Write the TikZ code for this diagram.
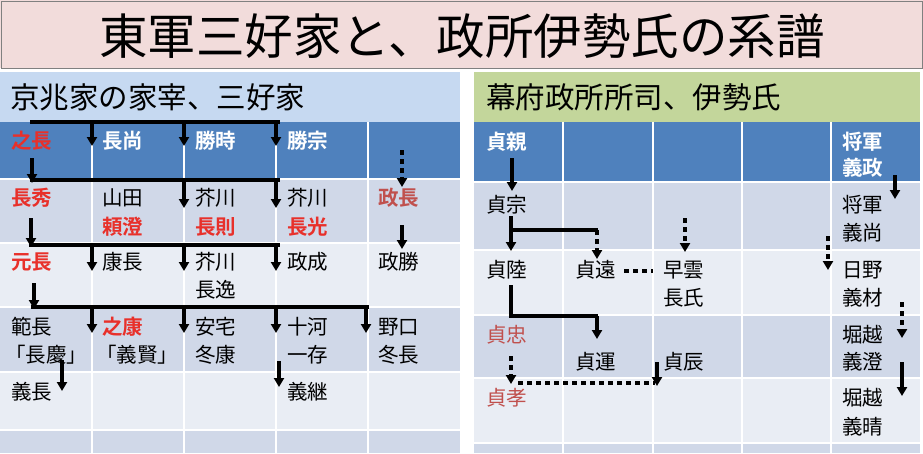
\documentclass[tikz,border=0pt]{standalone}
\usepackage{fontspec}
\setmainfont{Noto Sans CJK JP}[BoldFont={Noto Sans CJK JP Bold}]
\usetikzlibrary{arrows.meta}
\definecolor{hd}{HTML}{4F81BD}
\definecolor{rd}{HTML}{D0D8E8}
\definecolor{rl}{HTML}{E9EDF4}
\definecolor{red1}{HTML}{E8302A}
\definecolor{red2}{HTML}{C0504D}
\begin{document}
\begin{tikzpicture}[x=1pt,y=-1pt,
  t/.style={anchor=west,inner sep=0pt,font=\fontsize{20.5}{20.5}\selectfont},
  th/.style={t,text=white,font=\fontsize{20.5}{20.5}\selectfont\bfseries},
  tr/.style={t,text=red1,font=\fontsize{20.5}{20.5}\selectfont\bfseries},
  tb/.style={t,text=red2},
  ar/.style={line width=3.5pt,-{Triangle[length=9pt,width=10pt]}},
  ln/.style={line width=3.5pt},
  dt/.style={line width=4pt,dash pattern=on 4.5pt off 4.5pt},
  da/.style={dt,-{Triangle[length=9pt,width=10pt]}},
  grid/.style={white,line width=2pt}]
\useasboundingbox (0,0) rectangle (923,453);
% title
\fill[fill={rgb,255:red,242;green,220;blue,219}] (0,0) rectangle (923,68);
\draw[gray,line width=1pt] (1,1) rectangle (922,68);
\node (title) at (462,36) {\fontsize{48.5}{48.5}\selectfont 東軍三好家と、政所伊勢氏の系譜};
% left table
\fill[fill={rgb,255:red,198;green,217;blue,241}] (0,72) rectangle (460,122);
\node[anchor=west,inner sep=0pt] (lt) at (10,97) {\fontsize{29.5}{29.5}\selectfont 京兆家の家宰、三好家};
\fill[hd] (0,122) rectangle (460,179);
\fill[rd] (0,179) rectangle (460,243);
\fill[rl] (0,243) rectangle (460,307);
\fill[rd] (0,307) rectangle (460,372);
\fill[rl] (0,372) rectangle (460,430);
\fill[rd] (0,430) rectangle (460,453);
\foreach \y in {179,243,307,372,430} \draw[grid] (0,\y) -- (460,\y);
\foreach \x in {92,184,276,368} \draw[grid] (\x,122) -- (\x,453);
% right table
\fill[fill={rgb,255:red,195;green,214;blue,155}] (474,72) rectangle (920,122);
\node[anchor=west,inner sep=0pt] (rt) at (486,97) {\fontsize{29.5}{29.5}\selectfont 幕府政所所司、伊勢氏};
\fill[hd] (474,122) rectangle (920,182);
\fill[rd] (474,182) rectangle (920,250);
\fill[rl] (474,250) rectangle (920,315);
\fill[rd] (474,315) rectangle (920,378);
\fill[rl] (474,378) rectangle (920,443);
\fill[rd] (474,443) rectangle (920,453);
\foreach \y in {182,250,315,378,443} \draw[grid] (474,\y) -- (920,\y);
\foreach \x in {563,653,742,831} \draw[grid] (\x,122) -- (\x,453);
% left texts
\node[tr] (a1) at (11,141) {之長};
\node[th] (a2) at (102,141) {長尚};
\node[th] (a3) at (195,141) {勝時};
\node[th] (a4) at (287,141) {勝宗};
\node[tr] (b1) at (11,198) {長秀};
\node[t] (b2) at (102,198) {山田};
\node[tr] (b2b) at (102,227) {頼澄};
\node[t] (b3) at (195,198) {芥川};
\node[tr] (b3b) at (195,227) {長則};
\node[t] (b4) at (287,198) {芥川};
\node[tr] (b4b) at (287,227) {長光};
\node[tb,font=\fontsize{20.5}{20.5}\selectfont\bfseries] (b5) at (378,198) {政長};
\node[tr] (c1) at (11,262) {元長};
\node[t] (c2) at (102,262) {康長};
\node[t] (c3) at (195,262) {芥川};
\node[t] (c3b) at (195,290) {長逸};
\node[t] (c4) at (287,262) {政成};
\node[t] (c5) at (378,262) {政勝};
\node[t] (d1) at (11,327) {範長};
\node[t] (d1b) at (5,355) {「長慶」};
\node[tr] (d2) at (102,327) {之康};
\node[t] (d2b) at (96,355) {「義賢」};
\node[t] (d3) at (195,327) {安宅};
\node[t] (d3b) at (195,355) {冬康};
\node[t] (d4) at (287,327) {十河};
\node[t] (d4b) at (287,355) {一存};
\node[t] (d5) at (378,327) {野口};
\node[t] (d5b) at (378,355) {冬長};
\node[t] (e1) at (11,392) {義長};
\node[t] (e4) at (287,392) {義継};
% left arrows
\draw[ln] (30,122) -- (280,122);
\foreach \x in {92,184,276} \draw[ar] (\x,122) -- (\x,146);
\draw[ln] (32,158) -- (32,180) -- (280,180);
\draw[ar] (32,158) -- (32,183);
\foreach \x in {184,276} \draw[ar] (\x,180) -- (\x,208);
\draw[da] (402,150) -- (402,187);
\draw[ln] (31,218) -- (31,245) -- (280,245);
\draw[ar] (31,218) -- (31,247);
\foreach \x in {92,184,276} \draw[ar] (\x,245) -- (\x,271);
\draw[ar] (402,225) -- (402,249);
\draw[ln] (34,283) -- (34,307);
\draw[ar] (34,283) -- (34,309);
\draw[ln] (31,307) -- (369,307);
\foreach \x in {92,184,276,366} \draw[ar] (\x,307) -- (\x,333);
\draw[ar] (62,360) -- (62,391);
\draw[ar] (279,361) -- (279,387);
% right texts
\node[th] (r1) at (486,142) {貞親};
\node[th] (g1) at (842,142) {将軍};
\node[th] (g1b) at (842,168) {義政};
\node[t] (r2) at (486,205) {貞宗};
\node[t] (g2) at (842,205) {将軍};
\node[t] (g2b) at (842,233) {義尚};
\node[t] (r3) at (486,270) {貞陸};
\node[t] (r3b) at (575,270) {貞遠};
\node[t] (s1) at (663,270) {早雲};
\node[t] (s1b) at (663,298) {長氏};
\node[t] (g3) at (842,270) {日野};
\node[t] (g3b) at (842,298) {義材};
\node[tb] (r4) at (486,335) {貞忠};
\node[t] (r4b) at (575,362) {貞運};
\node[t] (r4c) at (663,362) {貞辰};
\node[t] (g4) at (842,335) {堀越};
\node[t] (g4b) at (842,362) {義澄};
\node[tb] (r5) at (486,398) {貞孝};
\node[t] (g5) at (842,398) {堀越};
\node[t] (g5b) at (842,427) {義晴};
% right arrows
\draw[ar] (512,158) -- (512,191);
\draw[ar] (895,175) -- (895,199);
\draw[ar] (511,216) -- (511,251);
\draw[ln] (511,230) -- (598,230);
\draw[da] (597,230) -- (597,259);
\draw[da] (685,218) -- (685,252);
\draw[da] (828,236) -- (828,270);
\draw[dt] (624,271) -- (653,271);
\draw[ln] (511,285) -- (511,316) -- (598,316);
\draw[ar] (597,316) -- (597,339);
\draw[da] (902,302) -- (902,338);
\draw[da] (511,356) -- (511,384);
\draw[dt] (518,383) -- (655,383);
\draw[ar] (657,362) -- (657,386);
\draw[ar] (902,362) -- (902,396);
\end{tikzpicture}
\end{document}
